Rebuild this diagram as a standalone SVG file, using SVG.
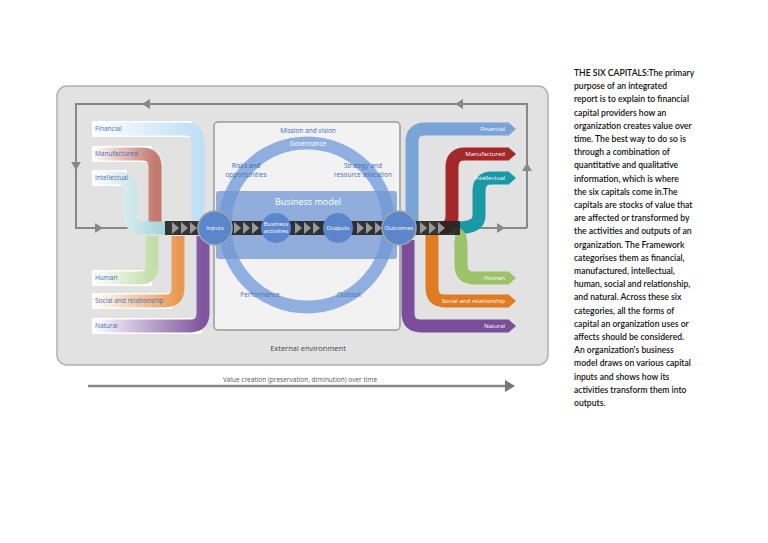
<svg xmlns="http://www.w3.org/2000/svg" width="768" height="543" viewBox="0 0 768 543">
<defs>
<style>
.lbl{font-family:"Open Sans","Liberation Sans",sans-serif;font-size:6.5px;fill:#3d6fb4}
.wl{font-family:"Open Sans","Liberation Sans",sans-serif;font-size:6px;fill:#fff}
.ctr{font-family:"Open Sans","Liberation Sans",sans-serif;font-size:6.5px;fill:#3d6fb4;text-anchor:middle}
.para{font-family:Lato,"Liberation Sans",sans-serif;font-size:8.6px;fill:#111;font-weight:600}
.band{fill:none;stroke-width:13;stroke-linejoin:round}
.loop{fill:none;stroke:#888;stroke-width:2}
.tri{fill:#888}
</style>
<linearGradient id="gFin" x1="0" x2="1"><stop offset="0" stop-color="#fff"/><stop offset="1" stop-color="#bfdff5"/></linearGradient>
<linearGradient id="gMan" x1="0" x2="1"><stop offset="0" stop-color="#fff"/><stop offset="1" stop-color="#c47a6e"/></linearGradient>
<linearGradient id="gInt" x1="0" x2="1"><stop offset="0" stop-color="#fff"/><stop offset="1" stop-color="#9fd0d8"/></linearGradient>
<linearGradient id="gHum" x1="0" x2="1"><stop offset="0" stop-color="#fff"/><stop offset="1" stop-color="#c4deaa"/></linearGradient>
<linearGradient id="gSoc" x1="0" x2="1"><stop offset="0" stop-color="#fff"/><stop offset="1" stop-color="#e89a55"/></linearGradient>
<linearGradient id="gNat" x1="0" x2="1"><stop offset="0" stop-color="#fff"/><stop offset="1" stop-color="#7e559e"/></linearGradient>
</defs>
<rect width="768" height="543" fill="#fff"/>
<rect x="57" y="86" width="491" height="279" rx="10" fill="#e2e2e2" stroke="#b0b0b0" stroke-width="1.5"/>
<g id="loop">
<path class="loop" d="M527 228 V104 H76 V228 H165"/>
<path class="loop" d="M460 228 H527"/>
<polygon class="tri" points="142,104 150,99 150,109"/>
<polygon class="tri" points="455,104 463,99 463,109"/>
<polygon class="tri" points="71,162 81,162 76,170"/>
<polygon class="tri" points="103,228 95,223 95,233"/>
<polygon class="tri" points="522,171 532,171 527,163"/>
<polygon class="tri" points="505,228 497,223 497,233"/>
</g>
<rect x="214" y="122" width="186" height="208" rx="4" fill="#f2f2f2" stroke="#999" stroke-width="1.5"/>
<g id="ring"><circle cx="307" cy="225" r="82" fill="none" stroke="#7fa2dc" stroke-width="13" opacity="0.85"/></g>
<g id="business-model">
<rect x="216" y="191" width="181" height="68" rx="3" fill="#6f95d4" opacity="0.75"/>
<text x="308" y="205" font-family="Open Sans,Liberation Sans,sans-serif" font-size="9" fill="#fff" text-anchor="middle">Business model</text>
</g>
<g id="left-capitals">
<rect x="92" y="121" width="100" height="16" fill="#fff"/>
<rect x="92" y="146" width="60" height="16" fill="#fff"/>
<rect x="92" y="170" width="35" height="16" fill="#fff"/>
<rect x="92" y="270" width="60" height="16" fill="#fff"/>
<rect x="92" y="293" width="80" height="16" fill="#fff"/>
<rect x="92" y="318" width="110" height="16" fill="#fff"/>
<path class="band" stroke="url(#gFin)" d="M92 129 H185 Q198 129 198 142 V220"/>
<path class="band" stroke="url(#gMan)" d="M92 154 H142 Q155 154 155 167 V225"/>
<path class="band" stroke="url(#gInt)" d="M92 178 H118 Q130 178 130 190 V215 Q130 228 143 228 H170"/>
<path class="band" stroke="url(#gHum)" d="M92 278 H140 Q152 278 152 266 V236"/>
<path class="band" stroke="url(#gSoc)" d="M92 301 H165 Q178 301 178 288 V236"/>
<path class="band" stroke="url(#gNat)" d="M92 326 H190 Q203 326 203 313 V236"/>
<text class="lbl" x="95" y="131">Financial</text>
<text class="lbl" x="95" y="156">Manufactured</text>
<text class="lbl" x="95" y="180">Intellectual</text>
<text class="lbl" x="95" y="280">Human</text>
<text class="lbl" x="95" y="303">Social and relationship</text>
<text class="lbl" x="95" y="328">Natural</text>
</g>
<g id="right-capitals">
<path class="band" stroke="#7aa3d8" d="M412 222 V142 Q412 129 425 129 H508"/>
<path class="band" stroke="#a3282a" d="M440 228 Q452 228 452 216 V167 Q452 154 465 154 H508"/>
<path class="band" stroke="#1998a6" d="M455 228 Q479 228 479 216 V191 Q479 178 492 178 H508"/>
<path class="band" stroke="#9cc26a" d="M455 234 Q461 234 461 246 V265 Q461 278 474 278 H508"/>
<path class="band" stroke="#e07b22" d="M432 234 V288 Q432 301 445 301 H508"/>
<path class="band" stroke="#7a4e9a" d="M408 240 V313 Q408 326 421 326 H508"/>
<polygon fill="#7aa3d8" points="508,122 516,129 508,136"/>
<polygon fill="#a3282a" points="508,147 516,154 508,161"/>
<polygon fill="#1998a6" points="508,171 516,178 508,185"/>
<polygon fill="#9cc26a" points="508,271 516,278 508,285"/>
<polygon fill="#e07b22" points="508,294 516,301 508,308"/>
<polygon fill="#7a4e9a" points="508,319 516,326 508,333"/>
<text class="wl" x="505" y="131" text-anchor="end">Financial</text>
<text class="wl" x="505" y="156" text-anchor="end">Manufactured</text>
<text class="wl" x="505" y="180" text-anchor="end">Intellectual</text>
<text class="wl" x="505" y="280" text-anchor="end">Human</text>
<text class="wl" x="505" y="303" text-anchor="end">Social and relationship</text>
<text class="wl" x="505" y="328" text-anchor="end">Natural</text>
</g>
<g id="flow">
<rect x="165" y="221" width="295" height="14" fill="#222" opacity="0.9"/>
<g fill="#999">
<polygon points="172,222 179,228 172,234"/><polygon points="181,222 188,228 181,234"/><polygon points="190,222 197,228 190,234"/>
<polygon points="234,222 241,228 234,234"/><polygon points="243,222 250,228 243,234"/><polygon points="252,222 259,228 252,234"/>
<polygon points="295,222 302,228 295,234"/><polygon points="304,222 311,228 304,234"/><polygon points="313,222 320,228 313,234"/>
<polygon points="357,222 364,228 357,234"/><polygon points="366,222 373,228 366,234"/><polygon points="375,222 382,228 375,234"/>
<polygon points="420,222 427,228 420,234"/><polygon points="429,222 436,228 429,234"/><polygon points="438,222 445,228 438,234"/>
</g>
</g>
<g id="inputs"><circle cx="215" cy="228" r="17" fill="#5b86cc" stroke="#9aa" stroke-width="1.5"/><text class="wl" x="215" y="230" text-anchor="middle" font-size="5">Inputs</text></g>
<g id="activities"><circle cx="276" cy="228" r="15" fill="#5b86cc"/><text class="wl" x="276" y="225.5" text-anchor="middle" font-size="4">Business</text><text class="wl" x="276" y="232.5" text-anchor="middle" font-size="4">activities</text></g>
<g id="outputs"><circle cx="338" cy="228" r="15" fill="#5b86cc"/><text class="wl" x="338" y="230" text-anchor="middle" font-size="5">Outputs</text></g>
<g id="outcomes"><circle cx="399" cy="228" r="17" fill="#5b86cc" stroke="#9aa" stroke-width="1.5"/><text class="wl" x="399" y="230" text-anchor="middle" font-size="5">Outcomes</text></g>
<text class="ctr" x="308" y="133">Mission and vision</text>
<text x="308" y="146" font-family="Open Sans,Liberation Sans,sans-serif" font-size="6.5" fill="#fff" text-anchor="middle">Governance</text>
<text class="ctr" x="246" y="168">Risks and</text>
<text class="ctr" x="246" y="177">opportunities</text>
<text class="ctr" x="363" y="168">Strategy and</text>
<text class="ctr" x="363" y="177">resource allocation</text>
<text class="ctr" x="260" y="297">Performance</text>
<text class="ctr" x="349" y="297">Outlook</text>
<text x="308" y="351" font-family="Open Sans,Liberation Sans,sans-serif" font-size="7.5" fill="#444" text-anchor="middle">External environment</text>
<g id="value-arrow">
<text x="300" y="382" font-family="Open Sans,Liberation Sans,sans-serif" font-size="6.5" fill="#555" text-anchor="middle">Value creation (preservation, diminution) over time</text>
<line x1="88" y1="386" x2="506" y2="386" stroke="#888" stroke-width="2.5"/>
<polygon points="515,386 505,380 505,392" fill="#777"/>
</g>
<g class="para">
<text x="574" y="76">THE SIX CAPITALS:The primary</text>
<text x="574" y="89.2">purpose of an integrated</text>
<text x="574" y="102.4">report is to explain to financial</text>
<text x="574" y="115.6">capital providers how an</text>
<text x="574" y="128.8">organization creates value over</text>
<text x="574" y="142">time. The best way to do so is</text>
<text x="574" y="155.2">through a combination of</text>
<text x="574" y="168.4">quantitative and qualitative</text>
<text x="574" y="181.6">information, which is where</text>
<text x="574" y="194.8">the six capitals come in.The</text>
<text x="574" y="208">capitals are stocks of value that</text>
<text x="574" y="221.2">are affected or transformed by</text>
<text x="574" y="234.4">the activities and outputs of an</text>
<text x="574" y="247.6">organization. The Framework</text>
<text x="574" y="260.8">categorises them as financial,</text>
<text x="574" y="274">manufactured, intellectual,</text>
<text x="574" y="287.2">human, social and relationship,</text>
<text x="574" y="300.4">and natural. Across these six</text>
<text x="574" y="313.6">categories, all the forms of</text>
<text x="574" y="326.8">capital an organization uses or</text>
<text x="574" y="340">affects should be considered.</text>
<text x="574" y="353.2">An organization's business</text>
<text x="574" y="366.4">model draws on various capital</text>
<text x="574" y="379.6">inputs and shows how its</text>
<text x="574" y="392.8">activities transform them into</text>
<text x="574" y="406">outputs.</text>
</g>
</svg>
